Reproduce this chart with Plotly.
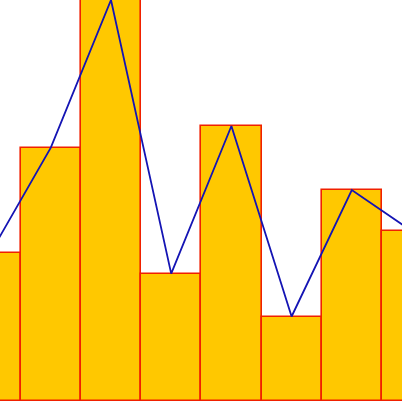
import plotly.graph_objects as go

categories = [0, 1, 2, 3, 4, 5, 6, 7]
bar_values = [148.7, 254.0, 402.0, 127.7, 275.7, 84.7, 211.5, 170.2]
line_values = [148.7, 254.0, 402.0, 127.7, 275.7, 84.7, 211.5, 170.2]

fig = go.Figure()
fig.add_trace(go.Bar(
    x=categories, y=bar_values,
    marker=dict(color="#FFC800", line=dict(color="#F02000", width=1.6)),
    width=1.0,
))
fig.add_trace(go.Scatter(
    x=categories, y=line_values, mode="lines",
    line=dict(color="#1414B4", width=1.8),
    cliponaxis=False,
))
fig.update_layout(
    width=402, height=402,
    margin=dict(l=0, r=0, t=0, b=0),
    paper_bgcolor="white", plot_bgcolor="white",
    showlegend=False, bargap=0,
    xaxis=dict(visible=False, range=[0.156, 6.834]),
    yaxis=dict(visible=False, range=[-1, 402]),
)
fig.write_html("out.html", config={"displayModeBar": False},
               post_script="document.body.style.margin='0px';")
